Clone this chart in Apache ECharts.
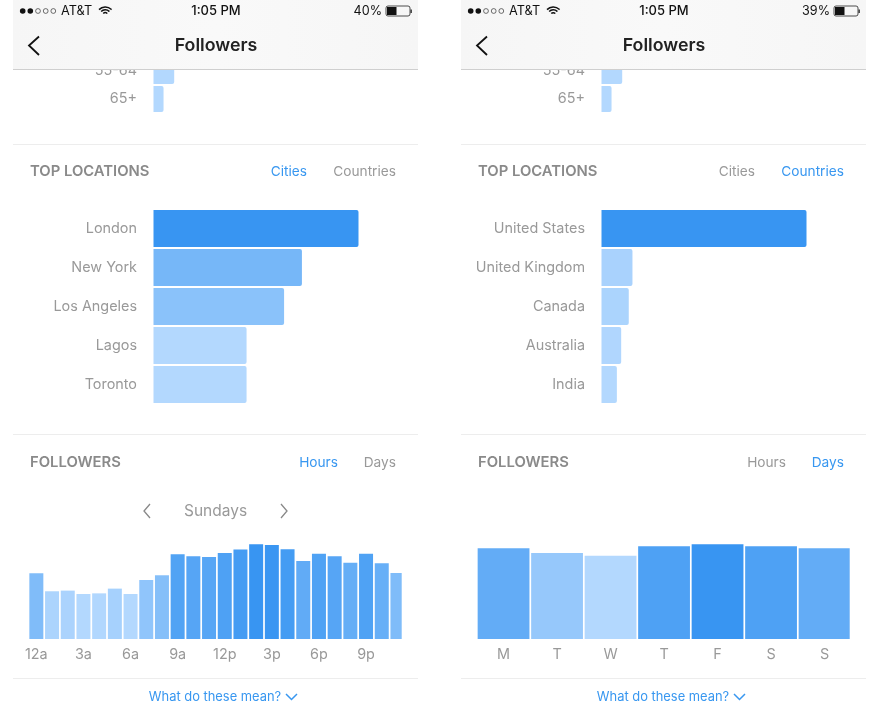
<!DOCTYPE html>
<html>
<head>
<meta charset="utf-8">
<style>
  html, body { margin: 0; background: #fff; }
  #chart { width: 884px; height: 720px; }
</style>
<script src="https://cdn.jsdelivr.net/npm/echarts@6/dist/echarts.min.js"></script>
</head>
<body>
<div id="chart"></div>
<script>
// values, tallest bar of each chart = 100
const ageLabels = ['55-64', '65+'];
const ageValues = [10.1, 4.9];

const cityLabels = ['London', 'New York', 'Los Angeles', 'Lagos', 'Toronto'];
const cityValues = [100, 72.4, 63.7, 45.4, 45.4];

const countryLabels = ['United States', 'United Kingdom', 'Canada', 'Australia', 'India'];
const countryValues = [100, 15.1, 13.3, 9.6, 7.5];

const hourLabels = ['12a', '1a', '2a', '3a', '4a', '5a', '6a', '7a', '8a', '9a', '10a', '11a',
  '12p', '1p', '2p', '3p', '4p', '5p', '6p', '7p', '8p', '9p', '10p', '11p'];
const hourValues = [69.4, 50.4, 51.1, 47.5, 48.2, 53.2, 47.5, 62.3, 67.3, 89.4, 87.3, 86.6,
  90.8, 94.4, 100, 99.3, 94.7, 82.4, 90.1, 87.3, 80.6, 90.1, 79.9, 69.7];

const dayLabels = ['M', 'T', 'W', 'T', 'F', 'S', 'S'];
const dayValues = [95.8, 90.8, 88, 97.9, 100, 97.9, 95.8];

const FONT = 'Inter, Roboto, sans-serif';
const BLUE = '#3897f0';
const GREY = '#999999';
const PHONE_SHIFT = 448;

// bars get darker with their value, from the lightest to the darkest blue
const LIGHT = [179, 216, 254];
const DARK = [56, 149, 242];
function shade(lo, hi) {
  return p => {
    const t = Math.max(0, (p.value - lo) / (hi - lo));
    const c = LIGHT.map((l, i) => Math.round(l + (DARK[i] - l) * t));
    return `rgb(${c.join(',')})`;
  };
}

const grid = [], xAxis = [], yAxis = [], series = [];

function addHorizontal(labels, values, left, top, band, barWidth, lo) {
  const i = grid.length;
  grid.push({ left, top, width: 205, height: band * labels.length });
  xAxis.push({ type: 'value', gridIndex: i, min: 0, max: 100, show: false });
  yAxis.push({
    type: 'category', gridIndex: i, data: labels, inverse: true,
    axisLine: { show: false }, axisTick: { show: false },
    axisLabel: { color: GREY, fontFamily: FONT, fontSize: 14.4, margin: 16.5, padding: [0, 0, 7, 0] }
  });
  series.push({
    type: 'bar', xAxisIndex: i, yAxisIndex: i, data: values, barWidth, silent: true,
    itemStyle: { color: shade(lo, 100), borderRadius: [0, 2, 2, 0] }
  });
}

function addVertical(labels, values, left, band, barWidth, interval, lo) {
  const i = grid.length;
  grid.push({ left, top: 544.3, width: band * labels.length, height: 94.7 });
  xAxis.push({
    type: 'category', gridIndex: i, data: labels,
    axisLine: { show: false }, axisTick: { show: false },
    axisLabel: { color: GREY, fontFamily: FONT, fontSize: 14.4, margin: 9, interval }
  });
  yAxis.push({ type: 'value', gridIndex: i, min: 0, max: 100, show: false });
  series.push({
    type: 'bar', xAxisIndex: i, yAxisIndex: i, data: values, barWidth, silent: true,
    itemStyle: { color: shade(lo, 100) }
  });
}

addHorizontal(ageLabels, ageValues, 153.5, 57, 28, 26, 10);
addHorizontal(cityLabels, cityValues, 153.5, 209, 39, 37, 45.4);
addVertical(hourLabels, hourValues, 28.5, 15.7, 14, 2, 47.5);

addHorizontal(ageLabels, ageValues, 153.5 + PHONE_SHIFT, 57, 28, 26, 10);
addHorizontal(countryLabels, countryValues, 153.5 + PHONE_SHIFT, 209, 39, 37, 7.5);
addVertical(dayLabels, dayValues, 476.8, 53.5, 51.8, 0, 88);

// phone chrome, drawn with the graphic component
const Z = 100;
function txt(x, y, text, o = {}) {
  return {
    type: 'text', x, y, z: Z + 1,
    style: {
      text, fill: o.color || GREY, fontFamily: FONT, fontSize: o.size || 13.7,
      fontWeight: o.weight || 400, align: o.align || 'left', verticalAlign: 'middle'
    }
  };
}
function polyline(points, stroke, lineWidth) {
  return { type: 'polyline', z: Z + 1, shape: { points }, style: { stroke, lineWidth, fill: null } };
}
function rect(x, y, width, height, style, z = Z) {
  return { type: 'rect', z, shape: { x, y, width, height }, style };
}
const shiftX = (pts, dx) => pts.map(p => [p[0] + dx, p[1]]);

function phone(dx, battery, tabs1, tabs2) {
  const els = [];
  els.push(rect(13 + dx, 0, 405, 69, {
    fill: new echarts.graphic.LinearGradient(0, 0, 1, 0, [
      { offset: 0, color: '#f6f6f6' }, { offset: 0.5, color: '#f9f9f9' }, { offset: 1, color: '#f6f6f6' }
    ])
  }));
  els.push(rect(13 + dx, 69, 405, 1, { fill: '#cfcfcf' }));
  els.push(rect(13 + dx, 144, 405, 1, { fill: '#ededed' }));
  els.push(rect(13 + dx, 434, 405, 1, { fill: '#ededed' }));
  els.push(rect(13 + dx, 678, 405, 1, { fill: '#ededed' }));

  // status bar
  [22.7, 30.3, 38, 45.7, 53.3].forEach((cx, i) => {
    els.push({
      type: 'circle', z: Z + 1, shape: { cx: cx + dx, cy: 11, r: i < 2 ? 2.8 : 2.4 },
      style: i < 2 ? { fill: '#111' } : { fill: null, stroke: '#333', lineWidth: 0.7 }
    });
  });
  els.push(txt(61 + dx, 11.5, 'AT&T', { color: '#111', size: 12.7 }));
  [2.8, 5.7, 8.6].forEach(r => {
    els.push({
      type: 'arc', z: Z + 1,
      shape: { cx: 105.3 + dx, cy: 15.5, r, startAngle: -Math.PI * 0.76, endAngle: -Math.PI * 0.24 },
      style: { stroke: '#111', lineWidth: 1.5, fill: null }
    });
  });
  els.push(txt(216 + dx, 11.5, '1:05 PM', { color: '#111', size: 13, weight: 500, align: 'center' }));
  els.push(txt(382 + dx, 11.5, battery, { color: '#111', size: 12.6, align: 'right' }));
  els.push({
    type: 'rect', z: Z + 1, shape: { x: 386 + dx, y: 6, width: 24, height: 10, r: 2 },
    style: { fill: null, stroke: '#222', lineWidth: 0.8 }
  });
  els.push(rect(387 + dx, 7, 9.5, 8, { fill: '#111' }, Z + 1));
  els.push(rect(410.5 + dx, 9.5, 1.3, 3.5, { fill: '#222' }, Z + 1));

  // nav bar
  els.push(polyline(shiftX([[39, 36.5], [29, 45.5], [39, 55]], dx), '#111', 1.8));
  els.push(txt(216 + dx, 46, 'Followers', { color: '#222', size: 17.8, weight: 600, align: 'center' }));

  // section headers
  els.push(txt(30 + dx, 172, 'TOP LOCATIONS', { color: '#8a8a8a', size: 14.8, weight: 600 }));
  els.push(txt(396 + dx, 172, 'Countries', { align: 'right', color: tabs1 === 1 ? BLUE : GREY }));
  els.push(txt(307 + dx, 172, 'Cities', { align: 'right', color: tabs1 === 0 ? BLUE : GREY }));
  els.push(txt(30 + dx, 462.5, 'FOLLOWERS', { color: '#8a8a8a', size: 14.8, weight: 600 }));
  els.push(txt(396 + dx, 462.5, 'Days', { align: 'right', color: tabs2 === 1 ? BLUE : GREY }));
  els.push(txt(338 + dx, 462.5, 'Hours', { align: 'right', color: tabs2 === 0 ? BLUE : GREY }));

  // footer link
  els.push(txt(215 + dx, 697.5, 'What do these mean?', { color: BLUE, size: 12.9, align: 'center' }));
  els.push(polyline(shiftX([[286, 694], [291.5, 699.5], [297, 694]], dx), BLUE, 1.5));
  return els;
}

const elements = [
  ...phone(0, '40%', 0, 0),
  ...phone(PHONE_SHIFT, '39%', 1, 1),
  // day picker, hours view only
  txt(215.5, 511.5, 'Sundays', { size: 15.5, align: 'center', color: '#999' }),
  polyline([[150, 504], [144, 511], [150, 518]], '#888', 1.3),
  polyline([[281, 504], [287, 511], [281, 518]], '#888', 1.3),
  // the app cuts the last bar of each chart short
  rect(401.7, 540, 6, 100, { fill: '#fff' }),
  rect(849.7, 540, 4, 100, { fill: '#fff' })
];

const chart = echarts.init(document.getElementById('chart'));
chart.setOption({
  animation: false,
  backgroundColor: '#fff',
  grid, xAxis, yAxis, series,
  graphic: { elements }
});
</script>
</body>
</html>
